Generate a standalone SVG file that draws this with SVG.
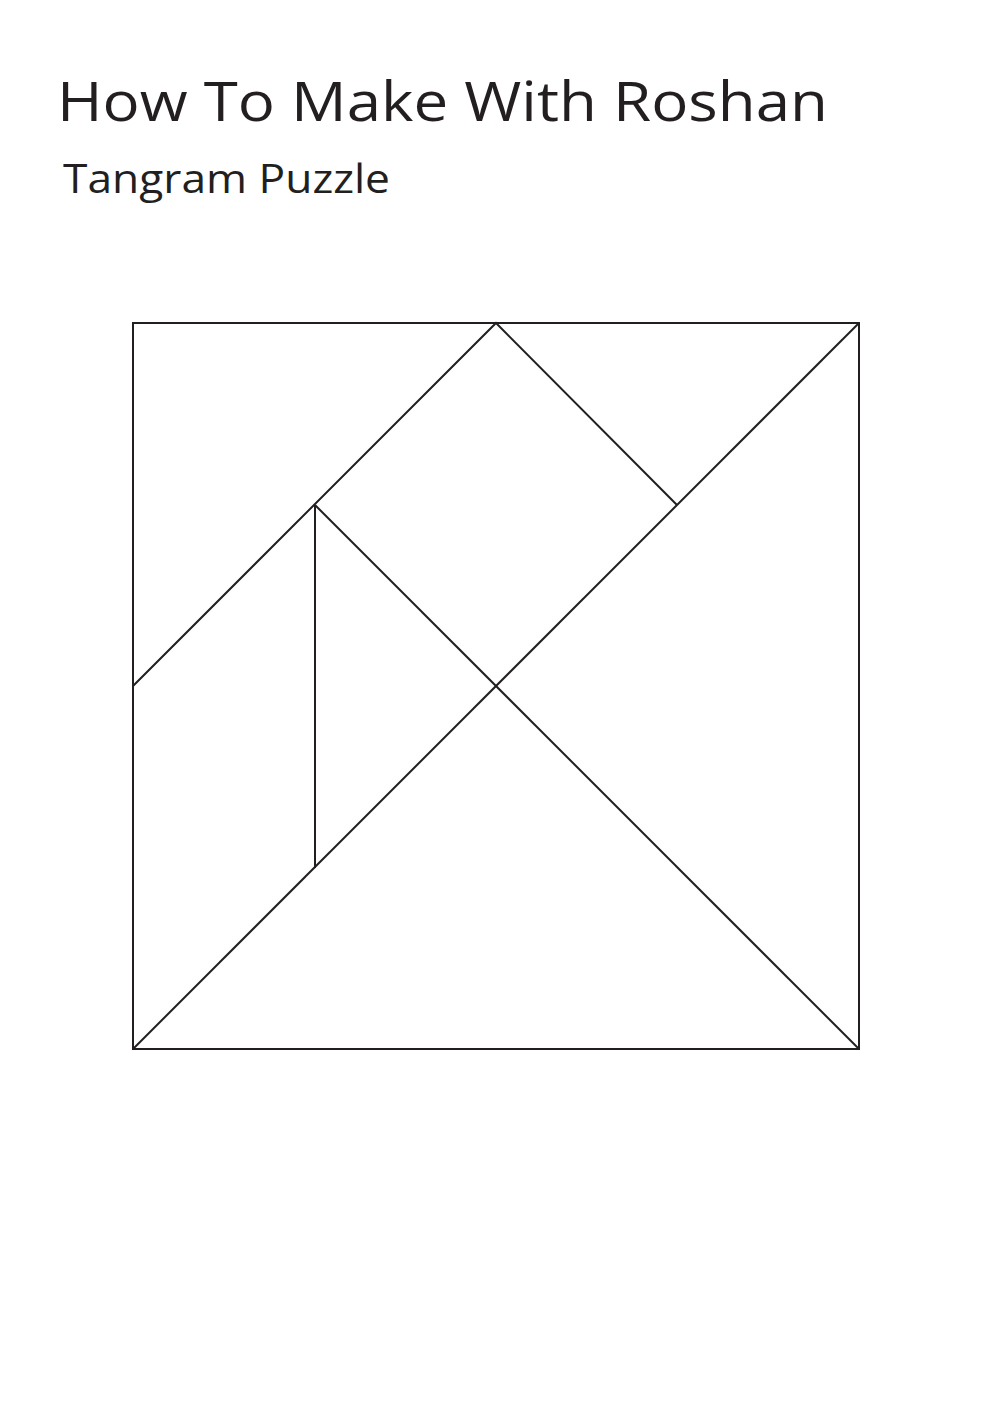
<svg xmlns="http://www.w3.org/2000/svg" width="1000" height="1415" viewBox="0 0 1000 1415">
<style>
.t{font-family:"Open Sans","Liberation Sans",sans-serif;fill:#231f20}
.p{fill:none;stroke:#231f20;stroke-width:2;stroke-linejoin:miter}
</style>
<rect width="1000" height="1415" fill="#fff"/>
<g id="title"><text class="t" x="57" y="121" font-size="54" textLength="771" lengthAdjust="spacingAndGlyphs">How To Make With Roshan</text></g>
<g id="subtitle"><text class="t" x="63" y="193" font-size="40" textLength="327" lengthAdjust="spacingAndGlyphs">Tangram Puzzle</text></g>
<g id="tangram">
<rect class="p" x="133" y="323" width="726" height="726"/>
<g id="lines">
<polyline class="p" points="133,686 496,323 677,505"/>
<line class="p" x1="859" y1="323" x2="133" y2="1049"/>
<line class="p" x1="315" y1="505" x2="859" y2="1049"/>
<line class="p" x1="315" y1="505" x2="315" y2="868"/>
</g>
</g>
</svg>
